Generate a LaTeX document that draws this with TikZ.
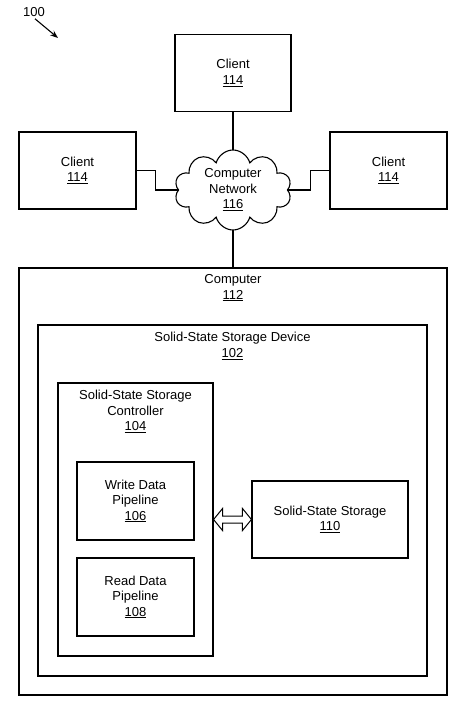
\documentclass[tikz,border=0pt]{standalone}
\usepackage{fontspec}
\setmainfont{Liberation Sans}
\usetikzlibrary{shapes.symbols,arrows.meta,calc,backgrounds}
\begin{document}
\begin{tikzpicture}[x=1pt,y=-1pt,
  every node/.style={font=\fontsize{13}{15.5}\selectfont},
  box/.style={draw,line width=1.1pt,rectangle,inner sep=0pt,align=center,fill=white},
  title/.style={align=center,inner sep=0pt},
  wire/.style={line width=1.1pt},
  netcloud/.style={draw,line width=1.1pt,cloud,cloud puffs=10,cloud puff arc=150,aspect=1.4,fill=white,align=center,inner sep=0pt,minimum width=117pt,minimum height=80pt}]
\useasboundingbox (0,0) rectangle (474,708);
% label 100
\node[title] (lbl) at (34,12) {100};
\coordinate (tip) at (58,38);
\draw[line width=1.1pt,-{Stealth[length=8pt,width=6pt]}] ([xshift=1pt,yshift=-2pt]lbl.south) -- (tip);
% clients and network
\node[box,minimum width=116pt,minimum height=77pt] (tc) at (233,73) {Client\\\underline{114}};
\node[box,minimum width=117pt,minimum height=77pt] (lc) at (77.5,170.5) {Client\\\underline{114}};
\node[box,minimum width=117pt,minimum height=77pt] (rc) at (388.5,170.5) {Client\\\underline{114}};
\node[netcloud] (net) at (233,190) {Computer\\Network\\\underline{116}};
% computer
\node[box,minimum width=428pt,minimum height=427pt] (comp) at (233,481.5) {};
\node[title] (comptitle) at (233,288) {Computer\\\underline{112}};
\node[box,minimum width=389pt,minimum height=351pt] (ssd) at (232.5,500.5) {};
\node[title] (ssdtitle) at (232.5,346) {Solid-State Storage Device\\\underline{102}};
\node[box,minimum width=155pt,minimum height=273pt] (ctrl) at (135.5,519.5) {};
\node[title] (ctrltitle) at (135.5,411.5) {Solid-State Storage\\Controller\\\underline{104}};
\node[box,minimum width=117pt,minimum height=78pt] (wdp) at (135.5,501) {Write Data\\Pipeline\\\underline{106}};
\node[box,minimum width=117pt,minimum height=78pt] (rdp) at (135.5,597) {Read Data\\Pipeline\\\underline{108}};
\node[box,minimum width=156pt,minimum height=77pt] (sss) at (330,519.5) {Solid-State Storage\\\underline{110}};
% connectors
\begin{pgfonlayer}{background}
\draw[wire] (tc.south) -- (net.center);
\draw[wire] (lc.east) -- ++(19,0) |- (net.center);
\draw[wire] (rc.west) -- ++(-19,0) |- (net.center);
\draw[wire] (net.center) -- (comp.north);
\end{pgfonlayer}
% hollow double arrow
\draw[line width=1pt,fill=white,line join=miter]
  (ctrl.east) -- ++(9,-11) -- ++(0,7.5) -- ($(sss.west)+(-9,-3.5)$) -- ++(0,-7.5)
  -- (sss.west) -- ++(-9,11) -- ++(0,-7.5) -- ($(ctrl.east)+(9,3.5)$) -- ++(0,7.5) -- cycle;
\end{tikzpicture}
\end{document}
